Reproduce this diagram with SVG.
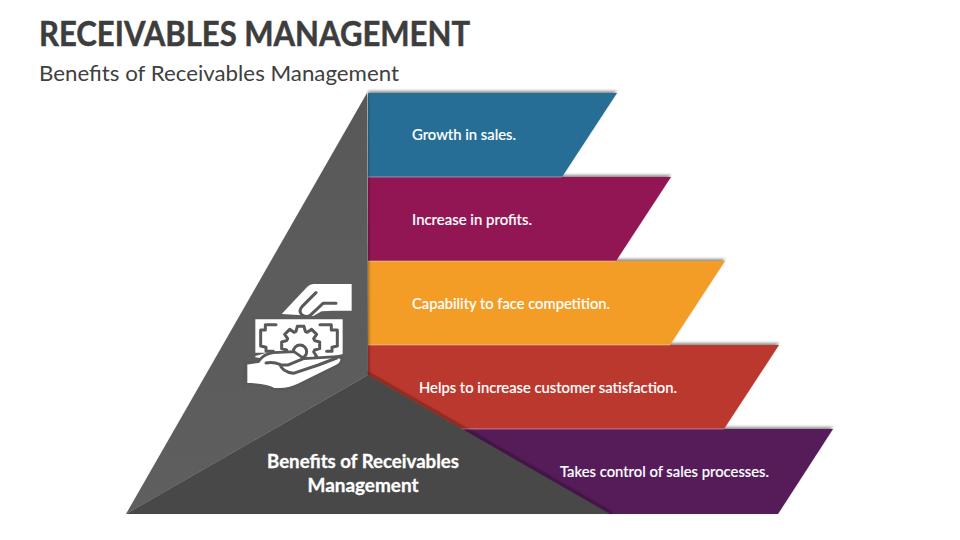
<svg xmlns="http://www.w3.org/2000/svg" width="960" height="540" viewBox="0 0 960 540">
<defs>
<filter id="sh" x="-5%" y="-10%" width="110%" height="120%"><feDropShadow dx="0" dy="-2" stdDeviation="1.5" flood-color="#000" flood-opacity="0.45"/></filter>
<filter id="sh2" x="-5%" y="-5%" width="110%" height="110%"><feDropShadow dx="1.5" dy="0" stdDeviation="1.2" flood-color="#000" flood-opacity="0.3"/></filter>
<filter id="bl" x="-5%" y="-10%" width="110%" height="120%"><feGaussianBlur stdDeviation="1.2"/></filter>
<linearGradient id="lg" x1="0" y1="0" x2="0" y2="1"><stop offset="0" stop-color="#595959"/><stop offset="1" stop-color="#5e5e5e"/></linearGradient>
</defs>
<style>
text{font-family:Lato,"Liberation Sans",sans-serif}
.l{font-size:15px;fill:#fff;font-weight:500;stroke:#fff;stroke-width:.15}
.b{font-size:18.5px;font-weight:700;fill:#fff;stroke:#fff;stroke-width:.3;text-anchor:middle}
.i{fill:none;stroke:#595959;stroke-width:9;stroke-linecap:round;stroke-linejoin:round}
.s{stroke:#fff;stroke-opacity:.4;stroke-width:1}
</style>
<rect width="960" height="540" fill="#fff"/>
<text id="title" x="39" y="46" font-size="34" font-weight="700" fill="#3d3d3d" stroke="#3d3d3d" stroke-width=".5" textLength="431" lengthAdjust="spacingAndGlyphs">RECEIVABLES MANAGEMENT</text>
<text id="subtitle" x="39" y="81" font-size="22" fill="#404040" textLength="360" lengthAdjust="spacingAndGlyphs">Benefits of Receivables Management</text>

<g id="band5"><path d="M368 429H833L778 514H368Z" fill="#561a5a" filter="url(#sh)"/><text class="l" x="560" y="477" textLength="209" lengthAdjust="spacingAndGlyphs">Takes control of sales processes.</text></g>
<g id="band4"><path d="M368 345H779L724 429H368Z" fill="#bb382e" filter="url(#sh)"/><path class="s" d="M368 429H724"/><text class="l" x="419" y="393" textLength="258" lengthAdjust="spacingAndGlyphs">Helps to increase customer satisfaction.</text></g>
<g id="band3"><path d="M368 261H725L670 345H368Z" fill="#f39c26" filter="url(#sh)"/><path class="s" d="M368 345H670"/><text class="l" x="412" y="309" textLength="198" lengthAdjust="spacingAndGlyphs">Capability to face competition.</text></g>
<g id="band2"><path d="M368 177H671L616 261H368Z" fill="#921452" filter="url(#sh)"/><path class="s" d="M368 261H616"/><text class="l" x="412" y="225" textLength="120" lengthAdjust="spacingAndGlyphs">Increase in profits.</text></g>
<g id="band1"><path d="M368 93H617L562 177H368Z" fill="#286e96" filter="url(#sh)"/><path class="s" d="M368 177H562"/><text class="l" x="412" y="140" textLength="104" lengthAdjust="spacingAndGlyphs">Growth in sales.</text></g>
<g id="pyramid-left"><path d="M367 93L368 375L126 514Z" fill="url(#lg)" filter="url(#sh2)"/></g>
<g id="pyramid-base"><path d="M368 373L612 513" fill="none" stroke="#000" stroke-opacity=".35" stroke-width="2.5" filter="url(#bl)"/><path d="M368 375L610 514H126Z" fill="#484848"/><text class="b" x="363" y="468" textLength="192" lengthAdjust="spacingAndGlyphs">Benefits of Receivables</text><text class="b" x="363" y="492" textLength="111" lengthAdjust="spacingAndGlyphs">Management</text></g>

<g id="icon" transform="translate(230 270) scale(.3333)">
<path fill="#fff" d="M155 132L232 50Q240 42 250 42H365V122H310L275 124 250 138 205 135Z"/>
<path class="i" d="M258 68L216 110Q205 122 215 134Q228 145 243 134L279 100H318"/>
<path fill="#fff" d="M76 148H338V252L300 262 268 272 200 282 76 262V258L110 248H76Z"/>
<path class="i" stroke-linecap="butt" d="M138 164H106V180H92V228L108 232V244H130"/>
<path class="i" stroke-linecap="butt" d="M270 164H304V180H322V228L306 232V244H290"/>
<path class="i" transform="translate(4 0)" d="M166 240L151 236V216L166 212 169 206 160 193 175 178 188 187 194 184 198 169H218L222 184 228 187 241 178 256 193 247 206 250 212 265 216V236L250 240 247 246 256 259 241 274 228 265"/>
<circle cx="210" cy="245" r="20" fill="#fff" stroke="#595959" stroke-width="9"/>
<path fill="#fff" stroke="#595959" stroke-width="8" stroke-linejoin="round" d="M48 342V280L85 275Q100 252 130 248L192 245 222 266 322 260Q338 262 335 272Q332 282 322 287L205 345Q170 362 130 357Q110 345 48 342Z"/>
<path class="i" d="M108 279Q128 274 150 283Q156 305 190 310L265 285 320 264M222 265L175 285H150"/>
<path fill="#595959" d="M40 270H47V350H40Z"/>
</g>
</svg>
